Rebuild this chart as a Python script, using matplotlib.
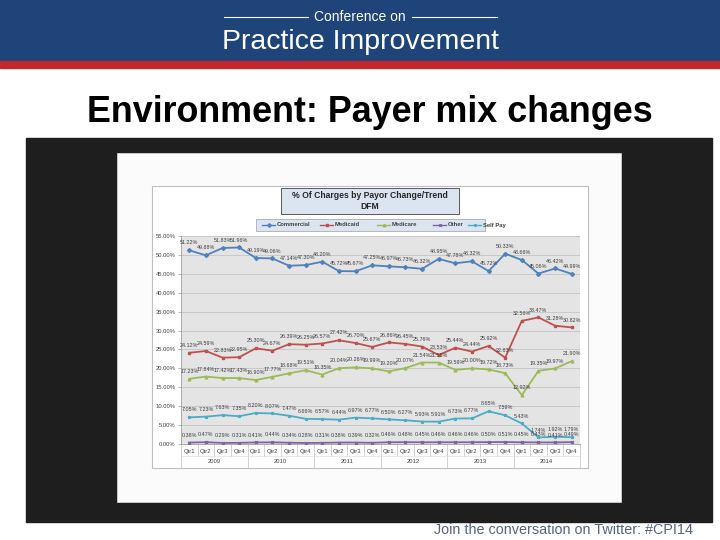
import matplotlib
matplotlib.use("Agg")
import matplotlib.pyplot as plt
from matplotlib.patches import Rectangle
import matplotlib.transforms as mtransforms

plt.rcParams['font.family'] = ['Liberation Sans', 'DejaVu Sans']

# data: % of charges by payor, 2009 Qtr1 .. 2014 Qtr4
quarters = ["Qtr1", "Qtr2", "Qtr3", "Qtr4"] * 6
years = ["2009", "2010", "2011", "2012", "2013", "2014"]

commercial = [51.22, 49.88, 51.83, 51.96, 49.19, 49.06, 47.14, 47.30,
              48.20, 45.72, 45.67, 47.25, 46.97, 46.73, 46.32, 48.95,
              47.78, 48.32, 45.72, 50.33, 48.66, 45.06, 46.42, 44.99]
medicaid = [24.12, 24.59, 22.83, 22.95, 25.30, 24.67, 26.39, 26.25,
            26.57, 27.42, 26.70, 25.67, 26.86, 26.45, 25.76, 23.53,
            25.44, 24.44, 25.92, 22.83, 32.56, 33.47, 31.28, 30.82]
medicare = [17.23, 17.84, 17.42, 17.43, 16.90, 17.77, 18.68, 19.51,
            18.35, 20.04, 20.26, 19.99, 19.20, 20.07, 21.54, 21.55,
            19.59, 20.00, 19.72, 18.73, 12.92, 19.35, 19.97, 21.90]
other = [0.38, 0.47, 0.29, 0.31, 0.41, 0.44, 0.34, 0.28,
         0.31, 0.38, 0.39, 0.32, 0.46, 0.48, 0.45, 0.46,
         0.46, 0.46, 0.50, 0.51, 0.45, 0.43, 0.41, 0.49]
self_pay = [7.05, 7.23, 7.63, 7.35, 8.20, 8.07, 7.47, 6.66,
            6.57, 6.44, 6.97, 6.77, 6.50, 6.27, 5.93, 5.91,
            6.73, 6.77, 8.65, 7.59, 5.43, 1.74, 1.92, 1.79]

series = [("Commercial", commercial, "#4f81bd", "D"),
          ("Medicaid", medicaid, "#c0504d", "s"),
          ("Medicare", medicare, "#9bbb59", "^"),
          ("Other", other, "#8064a2", "x"),
          ("Self Pay", self_pay, "#4bacc6", "*")]

fig = plt.figure(figsize=(7.2, 5.4), dpi=100)

# slide background in pixel coords
bg = fig.add_axes([0, 0, 1, 1])
bg.set_xlim(0, 720)
bg.set_ylim(540, 0)
bg.axis("off")

bg.add_patch(Rectangle((0, 0), 720, 61, color="#1f4479"))
bg.add_patch(Rectangle((0, 61), 720, 7, color="#c1272d"))
bg.text(360, 17, "Conference on", color="white", fontsize=10, ha="center", va="center")
bg.plot([224, 308], [17, 17], color="white", lw=0.8)
bg.plot([412, 497], [17, 17], color="white", lw=0.8)
bg.text(360, 42, "Practice Improvement", color="white", fontsize=20.5, ha="center", va="center")

bg.text(370, 113, "Environment: Payer mix changes", color="black", fontsize=25.8,
        fontweight="bold", ha="center", va="center")

bg.text(563, 530, "Join the conversation on Twitter: #CPI14", color="#55657f",
        fontsize=10.4, ha="center", va="center", zorder=1)
bg.add_patch(Rectangle((26, 138), 686, 384, color="#1e1e1e", zorder=2))
bg.add_patch(Rectangle((117, 153), 504, 349, facecolor="#fbfbfb", edgecolor="#d0d0d0", lw=0.6, zorder=3))
bg.add_patch(Rectangle((152, 186), 436, 282, facecolor="white", edgecolor="#bfbfbf", lw=0.8, zorder=4))

# chart title box
bg.add_patch(Rectangle((281, 188), 178, 26, facecolor="#dbe5f1", edgecolor="#404040", lw=0.6, zorder=5))
bg.text(370, 201, "% Of Charges by Payor Change/Trend\nDFM", fontsize=6.2, fontweight="bold",
        color="#262626", ha="center", va="center", linespacing=1.15, zorder=6)

# legend box
bg.add_patch(Rectangle((256, 219), 229, 12, facecolor="#dbe5f1", edgecolor="#a0a0a0", lw=0.5, zorder=5))
leg_x = [262, 320, 377, 433, 468]
for (name, vals, col, mk), lx in zip(series, leg_x):
    bg.plot([lx, lx + 13], [225, 225], color=col, lw=1, zorder=6)
    bg.plot([lx + 6.5], [225], marker=mk, color=col, ms=1.8, zorder=6)
    bg.text(lx + 15, 225, name, fontsize=4.2, fontweight="bold", color="#404040",
            va="center", ha="left", zorder=6)

# plot area
ax = fig.add_axes([181 / 720, 1 - 444 / 540, 399 / 720, 208 / 540], zorder=10)
ax.set_facecolor("#e4e4e4")
x = list(range(24))
for name, vals, col, mk in series:
    ax.plot(x, vals, color=col, lw=1.3, marker=mk, ms=2, zorder=3)
    for xi, v in zip(x, vals):
        ax.text(xi, v + 1.3, "%.2f%%" % v, fontsize=3.9, color="#404040",
                ha="center", va="bottom", zorder=4)

ax.set_xlim(-0.5, 23.5)
ax.set_ylim(0, 55)
ax.set_yticks(range(0, 56, 5))
ax.set_yticklabels(["%.2f%%" % t for t in range(0, 56, 5)], fontsize=4.2, color="#404040")
ax.grid(axis="y", color="#c4c4c4", lw=0.6)
ax.set_axisbelow(True)
for s in ["top", "right"]:
    ax.spines[s].set_visible(False)
ax.spines["left"].set_color("#a0a0a0")
ax.spines["bottom"].set_color("#a0a0a0")
ax.spines["left"].set_linewidth(0.6)
ax.spines["bottom"].set_linewidth(0.6)
ax.tick_params(axis="y", length=2, width=0.5, color="#a0a0a0", pad=2)
ax.set_xticks(x)
ax.set_xticklabels(quarters, fontsize=4.2, color="#404040")
ax.tick_params(axis="x", length=0, pad=3.5)

trans = mtransforms.blended_transform_factory(ax.transData, ax.transAxes)
for k in range(25):
    y_end = -0.11 if k % 4 == 0 else -0.058
    ax.plot([k - 0.5, k - 0.5], [0, y_end], transform=trans, color="#c0c0c0",
            lw=0.5, clip_on=False)
ax.plot([-0.5, 23.5], [-0.058, -0.058], transform=trans, color="#d8d8d8", lw=0.4, clip_on=False)
for i, yr in enumerate(years):
    ax.text(i * 4 + 1.5, -0.085, yr, transform=trans, fontsize=4.2, color="#404040",
            ha="center", va="center")

fig.savefig("out.png", dpi=100)
